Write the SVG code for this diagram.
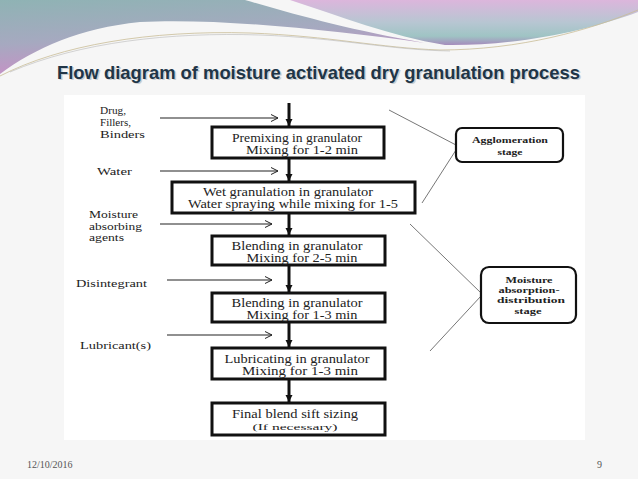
<svg xmlns="http://www.w3.org/2000/svg" width="638" height="479" viewBox="0 0 638 479">
<defs>
<linearGradient id="gl" x1="0" y1="0" x2="0.3" y2="1">
<stop offset="0" stop-color="#8fb3b4"/>
<stop offset="0.55" stop-color="#a6a9c0"/>
<stop offset="1" stop-color="#c98fc6"/>
</linearGradient>
<linearGradient id="gr" x1="0" y1="0" x2="0" y2="1">
<stop offset="0" stop-color="#dcb6dc"/>
<stop offset="0.5" stop-color="#b7c6d2"/>
<stop offset="0.8" stop-color="#9fc4c4"/>
<stop offset="1" stop-color="#a58cbc"/>
</linearGradient>
<marker id="ah" markerWidth="8" markerHeight="8" refX="7" refY="4" orient="auto" markerUnits="userSpaceOnUse">
<path d="M0,0.5 L7,4 L0,7.5" fill="none" stroke="#222" stroke-width="1"/>
</marker>
<marker id="dh" markerWidth="8" markerHeight="8" refX="7" refY="4" orient="auto" markerUnits="userSpaceOnUse">
<path d="M0,0.5 L7,4 L0,7.5 Z" fill="#111"/>
</marker>
</defs>
<style>
.box{fill:#fff;stroke:#111;stroke-width:3}
.rbox{fill:#fff;stroke:#111;stroke-width:2.2}
.t{font-family:"Liberation Serif",serif;font-size:11.5px;fill:#222;text-anchor:middle}
.l{font-family:"Liberation Serif",serif;font-size:11px;fill:#222}
.b{font-family:"Liberation Serif",serif;font-size:9px;font-weight:bold;fill:#222;text-anchor:middle}
.vl{stroke:#111;stroke-width:3;fill:none}
.in{stroke:#222;stroke-width:1.2;fill:none}
.gl{stroke:#777;stroke-width:1;fill:none}
.ttl{font-family:"Liberation Sans",sans-serif;font-weight:bold;font-size:19px;text-anchor:middle}
.ft{font-family:"Liberation Serif",serif;font-size:10px;fill:#555}
</style>
<rect width="638" height="479" fill="#f6f6f6"/>
<path d="M0,0 L245,0 C300,16 350,30 425,43 C330,30 220,18 140,22 C80,28 35,48 0,74 Z" fill="url(#gl)"/>
<path d="M290,0 L638,0 L638,12 C590,30 520,46 445,45 C390,36 340,16 290,0 Z" fill="url(#gr)"/>
<path d="M0,76 C60,45 150,30 250,33 C330,36 380,48 440,50 C520,50 590,30 638,10" fill="none" stroke="#c9bd97" stroke-width="0.8"/>
<path d="M10,72 C80,42 170,32 260,35 C340,38 390,50 450,51" fill="none" stroke="#b8b8b8" stroke-width="0.6"/>
<text class="ttl" x="320" y="80" fill="#c9cdd1" textLength="523" lengthAdjust="spacingAndGlyphs">Flow diagram of moisture activated dry granulation process</text>
<text class="ttl" x="318.5" y="78.5" fill="#203547" textLength="523" lengthAdjust="spacingAndGlyphs">Flow diagram of moisture activated dry granulation process</text>
<rect x="64" y="95" width="521" height="345" fill="#fff"/>
<g id="connectors">
<line class="vl" x1="289" y1="103" x2="289" y2="126" marker-end="url(#dh)"/>
<line class="vl" x1="289" y1="158" x2="289" y2="181" marker-end="url(#dh)"/>
<line class="vl" x1="289" y1="213" x2="289" y2="235" marker-end="url(#dh)"/>
<line class="vl" x1="289" y1="265" x2="289" y2="292" marker-end="url(#dh)"/>
<line class="vl" x1="289" y1="322" x2="289" y2="347" marker-end="url(#dh)"/>
<line class="vl" x1="289" y1="379" x2="289" y2="402" marker-end="url(#dh)"/>
<line class="in" x1="160" y1="118" x2="278" y2="118" marker-end="url(#ah)"/>
<line class="in" x1="160" y1="171" x2="278" y2="171" marker-end="url(#ah)"/>
<line class="in" x1="160" y1="224" x2="272" y2="224" marker-end="url(#ah)"/>
<line class="in" x1="167" y1="280" x2="272" y2="280" marker-end="url(#ah)"/>
<line class="in" x1="167" y1="335" x2="272" y2="335" marker-end="url(#ah)"/>
<line class="gl" x1="389" y1="110" x2="456" y2="145"/>
<line class="gl" x1="456" y1="150" x2="422" y2="203"/>
<line class="gl" x1="410" y1="224" x2="481" y2="293"/>
<line class="gl" x1="481" y1="296" x2="430" y2="351"/>
</g>
<g id="n1"><rect class="box" x="212" y="127" width="172" height="31"/>
<text class="t" x="297" y="142" textLength="130" lengthAdjust="spacingAndGlyphs">Premixing in granulator</text>
<text class="t" x="302" y="154" textLength="112" lengthAdjust="spacingAndGlyphs">Mixing for 1-2 min</text></g>
<g id="n2"><rect class="box" x="172" y="182" width="243" height="31"/>
<text class="t" x="288" y="196" textLength="170" lengthAdjust="spacingAndGlyphs">Wet granulation in granulator</text>
<text class="t" x="293" y="208" textLength="210" lengthAdjust="spacingAndGlyphs">Water spraying while mixing for 1-5</text></g>
<g id="n3"><rect class="box" x="212" y="236" width="173" height="29"/>
<text class="t" x="297" y="250" textLength="131" lengthAdjust="spacingAndGlyphs">Blending in granulator</text>
<text class="t" x="302" y="262" textLength="111" lengthAdjust="spacingAndGlyphs">Mixing for 2-5 min</text></g>
<g id="n4"><rect class="box" x="212" y="293" width="173" height="29"/>
<text class="t" x="297" y="307" textLength="131" lengthAdjust="spacingAndGlyphs">Blending in granulator</text>
<text class="t" x="302" y="319" textLength="111" lengthAdjust="spacingAndGlyphs">Mixing for 1-3 min</text></g>
<g id="n5"><rect class="box" x="212" y="348" width="173" height="31"/>
<text class="t" x="297" y="363" textLength="145" lengthAdjust="spacingAndGlyphs">Lubricating in granulator</text>
<text class="t" x="300" y="375" textLength="116" lengthAdjust="spacingAndGlyphs">Mixing for 1-3 min</text></g>
<g id="n6"><rect class="box" x="212" y="403" width="173" height="32"/>
<text class="t" x="295" y="418" textLength="126" lengthAdjust="spacingAndGlyphs">Final blend sift sizing</text>
<text class="t" x="295" y="430" style="font-size:9px" textLength="85" lengthAdjust="spacingAndGlyphs">(If necessary)</text></g>
<g id="in1"><text class="l" x="100" y="114" textLength="26" lengthAdjust="spacingAndGlyphs">Drug,</text><text class="l" x="100" y="126" textLength="31" lengthAdjust="spacingAndGlyphs">Fillers,</text><text class="l" x="100" y="138" textLength="45" lengthAdjust="spacingAndGlyphs">Binders</text></g>
<g id="in2"><text class="l" x="97" y="175" textLength="35" lengthAdjust="spacingAndGlyphs">Water</text></g>
<g id="in3"><text class="l" x="89" y="218" textLength="49" lengthAdjust="spacingAndGlyphs">Moisture</text><text class="l" x="89" y="230" textLength="53" lengthAdjust="spacingAndGlyphs">absorbing</text><text class="l" x="89" y="241" textLength="35" lengthAdjust="spacingAndGlyphs">agents</text></g>
<g id="in4"><text class="l" x="76" y="287" textLength="71" lengthAdjust="spacingAndGlyphs">Disintegrant</text></g>
<g id="in5"><text class="l" x="80" y="349" textLength="71" lengthAdjust="spacingAndGlyphs">Lubricant(s)</text></g>
<g id="s1"><rect class="rbox" x="456" y="128" width="107" height="34" rx="6"/>
<text class="b" x="510" y="143" textLength="76" lengthAdjust="spacingAndGlyphs">Agglomeration</text>
<text class="b" x="510" y="155" textLength="25" lengthAdjust="spacingAndGlyphs">stage</text></g>
<g id="s2"><rect class="rbox" x="481" y="267" width="95" height="56" rx="8"/>
<text class="b" x="529" y="283" textLength="47" lengthAdjust="spacingAndGlyphs">Moisture</text>
<text class="b" x="529" y="293" textLength="61" lengthAdjust="spacingAndGlyphs">absorption-</text>
<text class="b" x="531" y="303" textLength="68" lengthAdjust="spacingAndGlyphs">distribution</text>
<text class="b" x="528" y="314" textLength="27" lengthAdjust="spacingAndGlyphs">stage</text></g>
<text class="ft" x="27" y="468">12/10/2016</text>
<text class="ft" x="597" y="468">9</text>
</svg>
